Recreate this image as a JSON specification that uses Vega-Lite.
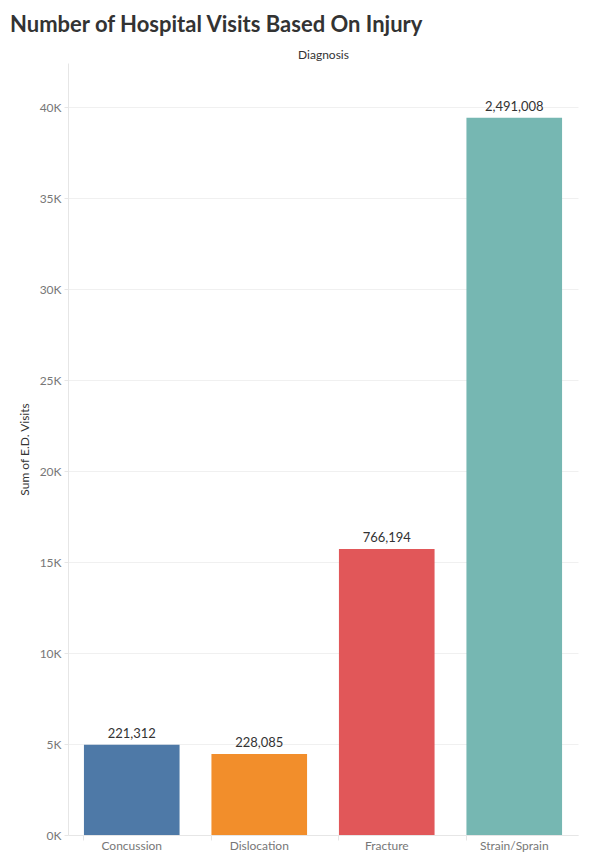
{
  "$schema": "https://vega.github.io/schema/vega-lite/v6.json",
  "description": "Number of hospital visits based on injury, by diagnosis.",
  "autosize": "none",
  "width": 510,
  "height": 772,
  "padding": {"left": 68, "top": 63, "right": 15, "bottom": 22},
  "title": {
    "text": "Number of Hospital Visits Based On Injury",
    "anchor": "start",
    "frame": "group",
    "font": "Lato",
    "fontSize": 22,
    "fontWeight": "bold",
    "color": "#333333",
    "dx": -58,
    "dy": 14,
    "offset": 25
  },
  "data": {
    "values": [
      {"Diagnosis": "Concussion", "Visits": 4960, "Total": 221312},
      {"Diagnosis": "Dislocation", "Visits": 4450, "Total": 228085},
      {"Diagnosis": "Fracture", "Visits": 15720, "Total": 766194},
      {"Diagnosis": "Strain/Sprain", "Visits": 39430, "Total": 2491008}
    ]
  },
  "config": {
    "view": {"stroke": null},
    "font": "Lato",
    "axis": {
      "labelFont": "Lato",
      "titleFont": "Lato",
      "labelColor": "#777777",
      "labelFontSize": 12,
      "domainColor": "#e6e6e6",
      "tickColor": "#e6e6e6",
      "gridColor": "#f0f0f0"
    }
  },
  "encoding": {
    "x": {
      "field": "Diagnosis",
      "type": "nominal",
      "sort": null,
      "scale": {"paddingInner": 0.25, "paddingOuter": 0.125}
    }
  },
  "layer": [
    {
      "mark": {"type": "bar"},
      "encoding": {
        "x": {
          "field": "Diagnosis",
          "type": "nominal",
          "sort": null,
          "axis": {
            "title": null,
            "labelAngle": 0,
            "labelPadding": 0,
            "bandPosition": 0,
            "tickSize": 5,
            "domainColor": "#e6e6e6"
          }
        },
        "y": {
          "field": "Visits",
          "type": "quantitative",
          "scale": {"domain": [0, 42440], "nice": false},
          "axis": {
            "title": "Sum of E.D. Visits",
            "titleColor": "#333333",
            "titleFontSize": 12,
            "titleFontWeight": "normal",
            "titlePadding": 8,
            "values": [0, 5000, 10000, 15000, 20000, 25000, 30000, 35000, 40000],
            "labelExpr": "datum.value / 1000 + 'K'",
            "tickSize": 4,
            "labelPadding": 3
          }
        },
        "color": {
          "field": "Diagnosis",
          "type": "nominal",
          "sort": null,
          "scale": {"range": ["#4e79a7", "#f28e2b", "#e15759", "#76b7b2"]},
          "legend": null
        }
      }
    },
    {
      "mark": {"type": "text", "baseline": "bottom", "dy": -4, "fontSize": 13, "color": "#333333"},
      "encoding": {
        "x": {
          "field": "Diagnosis",
          "type": "nominal",
          "sort": null,
          "axis": {
            "orient": "top",
            "title": "Diagnosis",
            "titleFontSize": 12,
            "titleFontWeight": "normal",
            "titleColor": "#333333",
            "titlePadding": 2,
            "labels": false,
            "ticks": false,
            "domain": false
          }
        },
        "y": {"field": "Visits", "type": "quantitative"},
        "text": {"field": "Total", "type": "quantitative", "format": ","}
      }
    }
  ],
  "resolve": {"axis": {"x": "independent"}}
}
